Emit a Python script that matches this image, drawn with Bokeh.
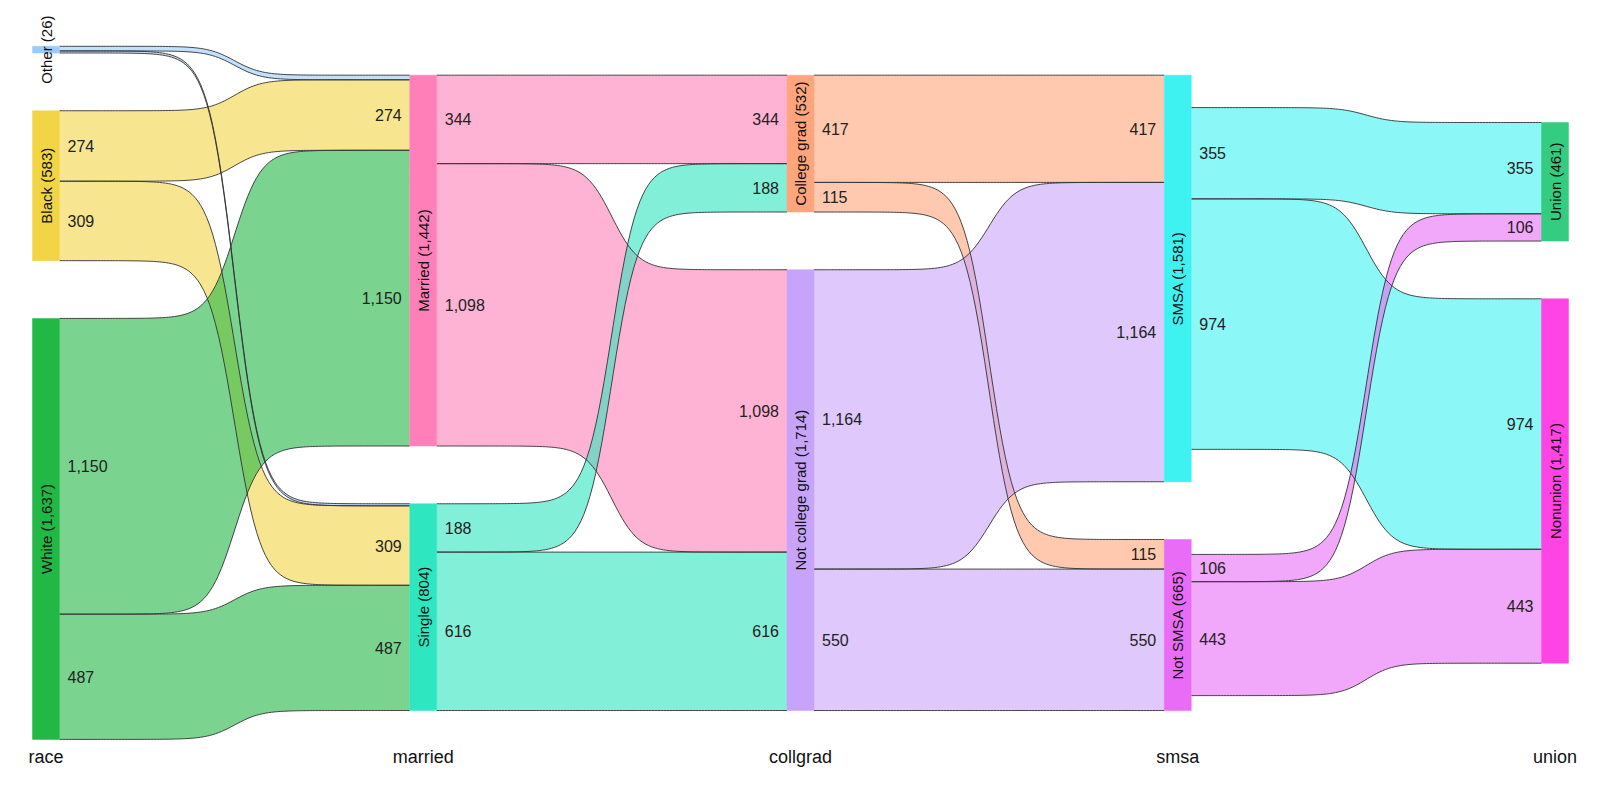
import numpy as np
from bokeh.plotting import figure
from bokeh.models import Range1d, ColumnDataSource
from bokeh.embed import file_html
from bokeh.resources import INLINE
from bokeh.core.properties import value

# ---------------- data ----------------
stage_names = ["race", "married", "collgrad", "smsa", "union"]

race_cats = ["Other", "Black", "White"]
married_cats = ["Married", "Single"]
collgrad_cats = ["College grad", "Not college grad"]
smsa_cats = ["SMSA", "Not SMSA"]
union_cats = ["Union", "Nonunion"]

# rows = source category, columns = target category
race_to_married = [[18, 8], [274, 309], [1150, 487]]
married_to_collgrad = [[344, 1098], [188, 616]]
collgrad_to_smsa = [[417, 115], [1164, 550]]
smsa_to_union = [[355, 974], [106, 443]]

race_colors = ["#99CCFF", "#F2D544", "#22B845"]
married_colors = ["#FF80B8", "#2EE6BF"]
collgrad_colors = ["#FFA57C", "#C8A3FA"]
smsa_colors = ["#3EF2F2", "#E86CF6"]
union_colors = ["#33CC80", "#FF44E6"]

# ---------------- layout ----------------
FONT = "Liberation Sans Narrow, Arial Narrow, Liberation Sans, sans-serif"
cats = [race_cats, married_cats, collgrad_cats, smsa_cats, union_cats]
cols = [race_colors, married_colors, collgrad_colors, smsa_colors, union_colors]
mats = [np.array(m, dtype=float) for m in
        (race_to_married, married_to_collgrad, collgrad_to_smsa, smsa_to_union)]
ncol = len(cats)

node_val = []
for c in range(ncol):
    v = np.zeros(len(cats[c]))
    if c > 0:
        v = np.maximum(v, mats[c - 1].sum(axis=0))
    if c < ncol - 1:
        v = np.maximum(v, mats[c].sum(axis=1))
    node_val.append(v)

grand = max(v.sum() for v in node_val)
gap = 0.1 * grand
heights = [v.sum() + gap * (len(v) - 1) for v in node_val]
Hmax = max(heights)
node_top = []
for c in range(ncol):
    y = (Hmax - heights[c]) / 2.0
    tops = []
    for v in node_val[c]:
        tops.append(y)
        y += v + gap
    node_top.append(np.array(tops))

STEP = 377.25             # px between columns
NW = 27 / STEP            # node width in column units
PX = 1 / STEP             # one pixel in x units
K = 26.0                  # steepness of the link curve

# pixel geometry
W, H = 1584, 784
ypx = 0.25716             # px per unit
top_px = 45.8
y_end = -top_px / ypx
y_start = y_end + H / ypx
x_start = -32 / STEP
x_end = x_start + W / STEP

p = figure(width=W, height=H, output_backend="svg", toolbar_location=None,
           x_range=Range1d(x_start, x_end), y_range=Range1d(y_start, y_end),
           min_border=0, outline_line_color=None, background_fill_color="white")
p.axis.visible = False
p.grid.visible = False

tt = np.linspace(0, 1, 120)
L = 1 / (1 + np.exp(-K * (tt - 0.5)))
S = (L - L[0]) / (L[-1] - L[0])

patch_xs, patch_ys, patch_col = [], [], []
line_xs, line_ys = [], []
lab_x, lab_y, lab_t, lab_al = [], [], [], []

for c in range(ncol - 1):
    M = mats[c]
    ns, nt = M.shape
    x0 = c + NW
    x1 = c + 1
    xs = x0 + (x1 - x0) * tt
    src_pos = {}
    for s in range(ns):
        y = node_top[c][s] + (node_val[c][s] - M[s].sum()) / 2
        for t in range(nt):
            src_pos[(s, t)] = y
            y += M[s, t]
    tgt_pos = {}
    for t in range(nt):
        y = node_top[c + 1][t] + (node_val[c + 1][t] - M[:, t].sum()) / 2
        for s in range(ns):
            tgt_pos[(s, t)] = y
            y += M[s, t]
    for s in range(ns):
        for t in range(nt):
            v = M[s, t]
            if v <= 0:
                continue
            a0 = src_pos[(s, t)]
            b0 = tgt_pos[(s, t)]
            top = a0 + (b0 - a0) * S
            bot = top + v
            patch_xs.append(np.concatenate([xs, xs[::-1]]))
            patch_ys.append(np.concatenate([top, bot[::-1]]))
            patch_col.append(cols[c][s])
            line_xs += [xs, xs]
            line_ys += [top, bot]
            if v >= 50:
                lab_x += [x0 + 8 * PX, x1 - 8 * PX]
                lab_y += [a0 + v / 2, b0 + v / 2]
                lab_t += [f"{int(v):,}"] * 2
                lab_al += ["left", "right"]

p.patches(xs="xs", ys="ys", fill_color="c", fill_alpha=0.6, line_color=None,
          source=ColumnDataSource(dict(xs=patch_xs, ys=patch_ys, c=patch_col)))
p.multi_line(xs=line_xs, ys=line_ys, line_color="#333333", line_width=1, line_alpha=0.9)

# nodes
nl, nr, ntp, nb, nc, nx, ny, ntxt = [], [], [], [], [], [], [], []
for c in range(ncol):
    for i, name in enumerate(cats[c]):
        t0 = node_top[c][i]
        v = node_val[c][i]
        nl.append(c)
        nr.append(c + NW)
        ntp.append(t0)
        nb.append(t0 + v)
        nc.append(cols[c][i])
        nx.append(c + NW / 2)
        ny.append(t0 + v / 2)
        ntxt.append(f"{name} ({int(v):,})")

p.quad(left=nl, right=nr, top=ntp, bottom=nb, fill_color=nc, line_color=nc,
       line_alpha=0.5, line_width=1)

p.text(x=nx, y=ny, text=ntxt, angle=np.pi / 2, text_align="center",
       text_baseline="middle", text_font=value(FONT), text_font_size="15px",
       text_color="#111111")

p.text(x="x", y="y", text="t", text_align="al", text_baseline="middle",
       text_font=value(FONT), text_font_size="16px", text_color="#222222",
       source=ColumnDataSource(dict(x=lab_x, y=lab_y, t=lab_t, al=lab_al)))

# stage labels
p.text(x=[c + NW / 2 for c in range(ncol)], y=[(756 - top_px) / ypx] * ncol,
       text=stage_names, text_align="center", text_baseline="alphabetic",
       text_font=value(FONT), text_font_size="18px", text_color="#111111")

open("out.html", "w").write(file_html(p, INLINE))
